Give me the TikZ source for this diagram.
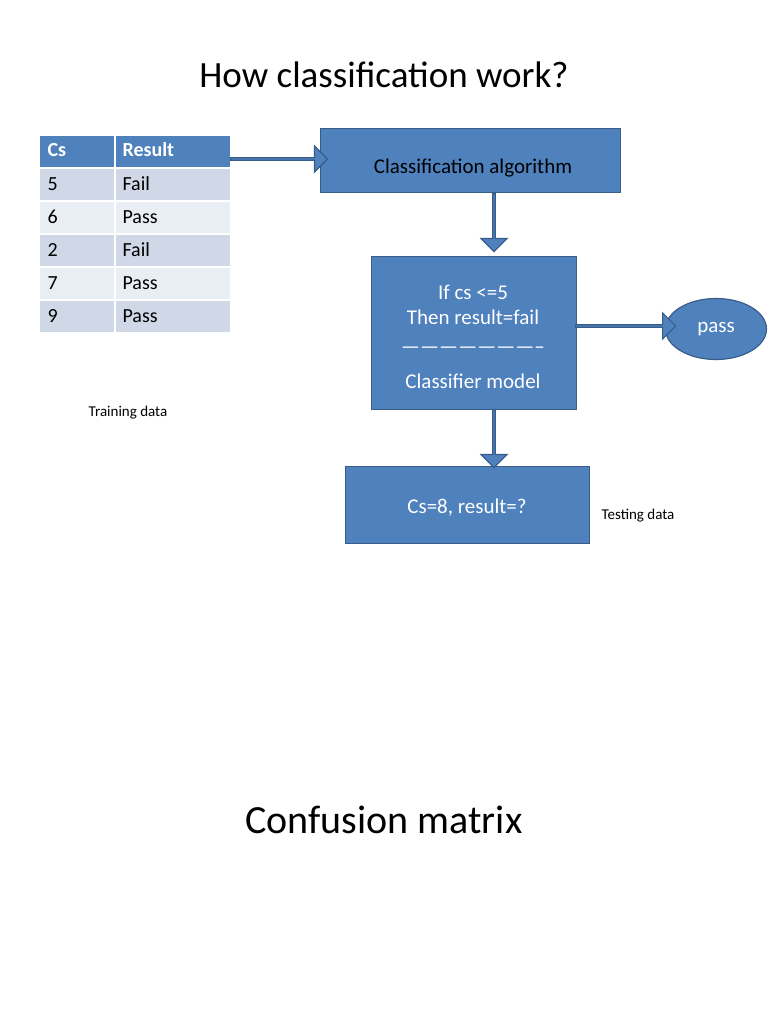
\documentclass[tikz,border=0pt]{standalone}
\usepackage{fontspec}
\setmainfont{Carlito}
\usetikzlibrary{shapes.arrows,shapes.geometric}
\definecolor{bl}{HTML}{4F81BD}
\definecolor{bd}{HTML}{385D8A}
\definecolor{r1}{HTML}{D0D8E8}
\definecolor{r2}{HTML}{E9EDF4}
\begin{document}
\begin{tikzpicture}[x=1pt,y=-1pt,
  box/.style={draw=bd,fill=bl,line width=1.2pt,anchor=north west,inner sep=0pt},
  barrow/.style={single arrow,draw=bd,fill=bl,line width=1.2pt,single arrow head extend=6pt,inner sep=0pt,minimum width=26pt},
  cell/.style={anchor=west,font=\fontsize{20}{24}\selectfont}]
\useasboundingbox (0,0) rectangle (768,1024);
\fill[white] (0,0) rectangle (768,1024);
\node[font=\fontsize{37}{44}\selectfont] (title) at (384,75) {How classification work?};
% table
\fill[bl] (40,136) rectangle (230,168);
\foreach \i/\c in {0/r1,1/r2,2/r1,3/r2,4/r1}{
  \fill[\c] (40,168+33*\i) rectangle (230,201+33*\i);}
\foreach \i in {0,...,5}{\draw[white,line width=1.2pt] (40,168+33*\i) -- (230,168+33*\i);}
\draw[white,line width=1.2pt] (115,136) -- (115,333);
\node[cell,text=white,font=\fontsize{20}{24}\selectfont\bfseries] (h1) at (44,150) {Cs};
\node[cell,text=white,font=\fontsize{20}{24}\selectfont\bfseries] (h2) at (119,150) {Result};
\foreach \i/\a/\b in {0/5/Fail,1/6/Pass,2/2/Fail,3/7/Pass,4/9/Pass}{
  \node[cell] (a\i) at (44,184+33*\i) {\a};
  \node[cell] (b\i) at (119,184+33*\i) {\b};}
\node[font=\fontsize{15}{18}\selectfont] (train) at (128,413) {Training data};
% boxes
\node[box,minimum width=300pt,minimum height=64pt] (alg) at (320,128) {};
\node[font=\fontsize{21}{25}\selectfont] at (473,168) {Classification algorithm};
\node[box,minimum width=205pt,minimum height=153pt] (model) at (371,256) {};
\node[text=white,font=\fontsize{21}{25}\selectfont,align=center] at (473,305) {If cs <=5\\Then result=fail};
\node[text=white,font=\fontsize{21}{25}\selectfont] at (473,350) {-----------------------};
\node[text=white,font=\fontsize{21}{25}\selectfont] at (473,381) {Classifier model};
\node[box,minimum width=244pt,minimum height=77pt] (test) at (345,466) {};
\node[text=white,font=\fontsize{21}{25}\selectfont] at (467,508) {Cs=8, result=?};
\node[font=\fontsize{15}{18}\selectfont] (testl) at (638,516) {Testing data};
\node[ellipse,draw=bd,fill=bl,line width=1.2pt,minimum width=101pt,minimum height=61pt,text=white,font=\fontsize{21}{25}\selectfont] (pass) at (716,329) {pass};
% arrows
\node[barrow,minimum height=97pt] (a1) at (278.5,159) {};
\node[barrow,minimum height=58pt,shape border rotate=270] (a2) at (494,222) {};
\node[barrow,minimum height=100pt] (a3) at (625,326) {};
\node[barrow,minimum height=58pt,shape border rotate=270] (a4) at (494,438) {};
\node[font=\fontsize{40}{48}\selectfont] (conf) at (384,820) {Confusion matrix};
\end{tikzpicture}
\end{document}
